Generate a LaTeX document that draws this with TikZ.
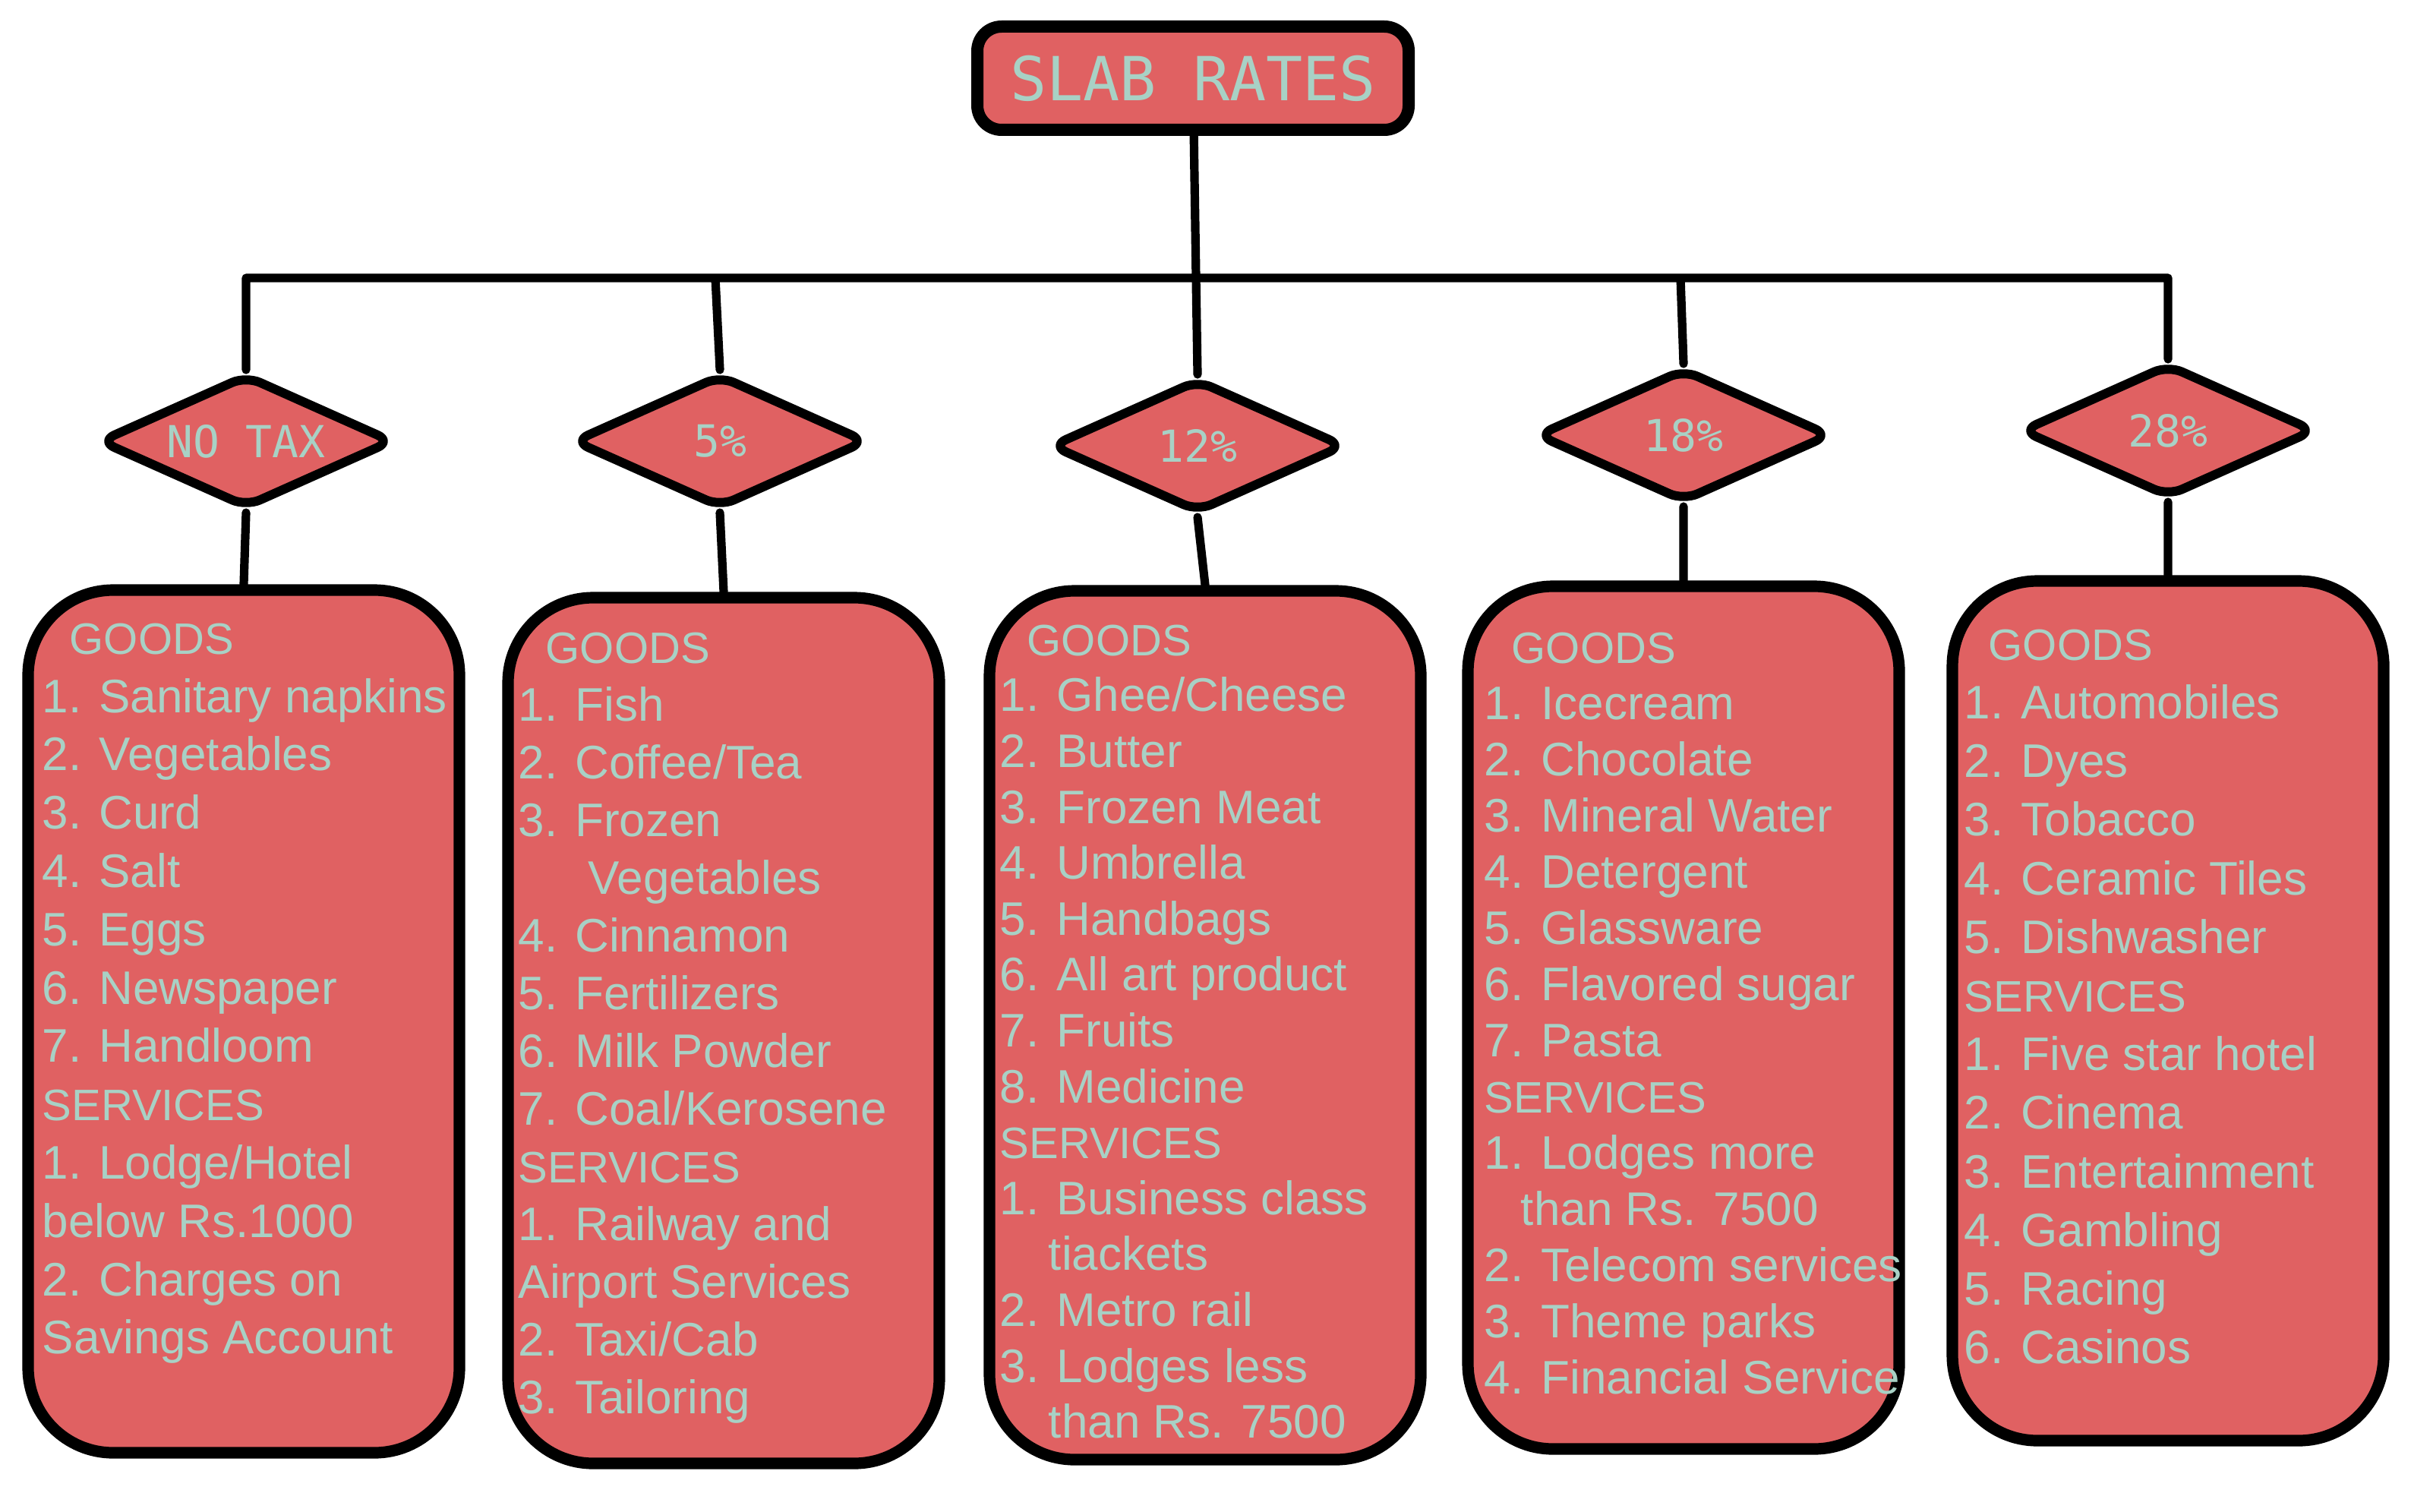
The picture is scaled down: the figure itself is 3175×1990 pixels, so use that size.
\documentclass[tikz,border=0pt]{standalone}
\usepackage{fontspec}
\setmainfont{Liberation Sans}
\newfontfamily\slabmono{DejaVu Sans Mono}
\usetikzlibrary{shapes.geometric}
\definecolor{slabred}{HTML}{E06162}
\definecolor{slabtext}{HTML}{A8D1C5}
\newcommand{\hd}[1]{{\fontsize{14.5}{17}\selectfont #1}}

\begin{document}
\begin{tikzpicture}[x=0.25pt,y=-0.25pt,line join=round,line cap=round,
        title/.style={rectangle,rounded corners=8pt,draw=black,line width=4pt,fill=slabred,text=slabtext,
          font=\slabmono\fontsize{20}{24}\selectfont,minimum width=142pt,minimum height=34pt,inner sep=0},
        rate/.style={diamond,aspect=2.2,rounded corners=5pt,draw=black,line width=3pt,fill=slabred,text=slabtext,
          font=\slabmono\fontsize{14.5}{17}\selectfont,minimum width=97pt,minimum height=44pt,inner sep=0},
        slab/.style={rectangle,rounded corners=28pt,draw=black,line width=3.8pt,fill=slabred,minimum width=142pt,inner sep=0},
        list/.style={anchor=north west,align=left,inner sep=0,text=slabtext},
        wire/.style={draw=black,line width=2.8pt}]
        \useasboundingbox (0,0) rectangle (3175,1990);
        % top and the five slabs
        \node[title] (top) at (1571,103) {SLAB RATES};
        \node[rate]  (d1) at (324,581)  {NO TAX};
        \node[rate]  (d2) at (948,581)  {5\%};
        \node[rate]  (d3) at (1577,587) {12\%};
        \node[rate]  (d4) at (2217,573) {18\%};
        \node[rate]  (d5) at (2855,567) {28\%};
        \node[slab,minimum height=284pt] (box1) at (321,1345) {};
        \node[slab,minimum height=285pt] (box2) at (953,1357) {};
        \node[slab,minimum height=286pt] (box3) at (1587,1350) {};
        \node[slab,minimum height=284pt] (box4) at (2217,1340) {};
        \node[slab,minimum height=283pt] (box5) at (2855,1331) {};
        % lists
        \node[list,font=\fontsize{15.5}{19.2}\selectfont] (list1) at (55,820) {\hspace*{9pt}\hd{GOODS}\\1. Sanitary napkins\\
          2. Vegetables\\3. Curd\\4. Salt\\5. Eggs\\6. Newspaper\\7. Handloom\\\hd{SERVICES}\\1. Lodge/Hotel\\below Rs.1000\\
          2. Charges on\\Savings Account};
        \node[list,font=\fontsize{15.5}{19}\selectfont] (list2) at (682,832) {\hspace*{9pt}\hd{GOODS}\\1. Fish\\2. Coffee/Tea\\
          3. Frozen\\\hspace*{23pt}Vegetables\\4. Cinnamon\\5. Fertilizers\\6. Milk Powder\\7. Coal/Kerosene\\\hd{SERVICES}\\
          1. Railway and\\Airport Services\\2. Taxi/Cab\\3. Tailoring};
        \node[list,font=\fontsize{15.5}{18.4}\selectfont] (list3) at (1316,822) {\hspace*{9pt}\hd{GOODS}\\1. Ghee/Cheese\\
          2. Butter\\3. Frozen Meat\\4. Umbrella\\5. Handbags\\6. All art product\\7. Fruits\\8. Medicine\\\hd{SERVICES}\\
          1. Business class\\\hspace*{16pt}tiackets\\2. Metro rail\\3. Lodges less\\\hspace*{16pt}than Rs. 7500};
        \node[list,font=\fontsize{15.5}{18.5}\selectfont] (list4) at (1954,832) {\hspace*{9pt}\hd{GOODS}\\1. Icecream\\
          2. Chocolate\\3. Mineral Water\\4. Detergent\\5. Glassware\\6. Flavored sugar\\7. Pasta\\\hd{SERVICES}\\
          1. Lodges more\\\hspace*{12pt}than Rs. 7500\\2. Telecom services\\3. Theme parks\\4. Financial Service};
        \node[list,font=\fontsize{15.5}{19.3}\selectfont] (list5) at (2586,828) {\hspace*{8pt}\hd{GOODS}\\1. Automobiles\\
          2. Dyes\\3. Tobacco\\4. Ceramic Tiles\\5. Dishwasher\\\hd{SERVICES}\\1. Five star hotel\\2. Cinema\\
          3. Entertainment\\4. Gambling\\5. Racing\\6. Casinos};
        % the bus
        \coordinate (bus0) at (1575,366);
        \coordinate (bus1) at (324,366);
        \coordinate (bus2) at (942,366);
        \coordinate (bus3) at (1575,366);
        \coordinate (bus4) at (2213,366);
        \coordinate (bus5) at (2855,366);
        \path[wire]
          (top) -- (bus0)
          (bus1) -- (bus5)
          (bus1) -- (d1.north) (d1.south) -- (box1.north)
          (bus2) -- (d2.north) (d2.south) -- (box2.north)
          (bus3) -- (d3.north) (d3.south) -- (box3.north)
          (bus4) -- (d4.north) (d4.south) -- (box4.north)
          (bus5) -- (d5.north) (d5.south) -- (box5.north)
          ;
      \end{tikzpicture}
\end{document}
